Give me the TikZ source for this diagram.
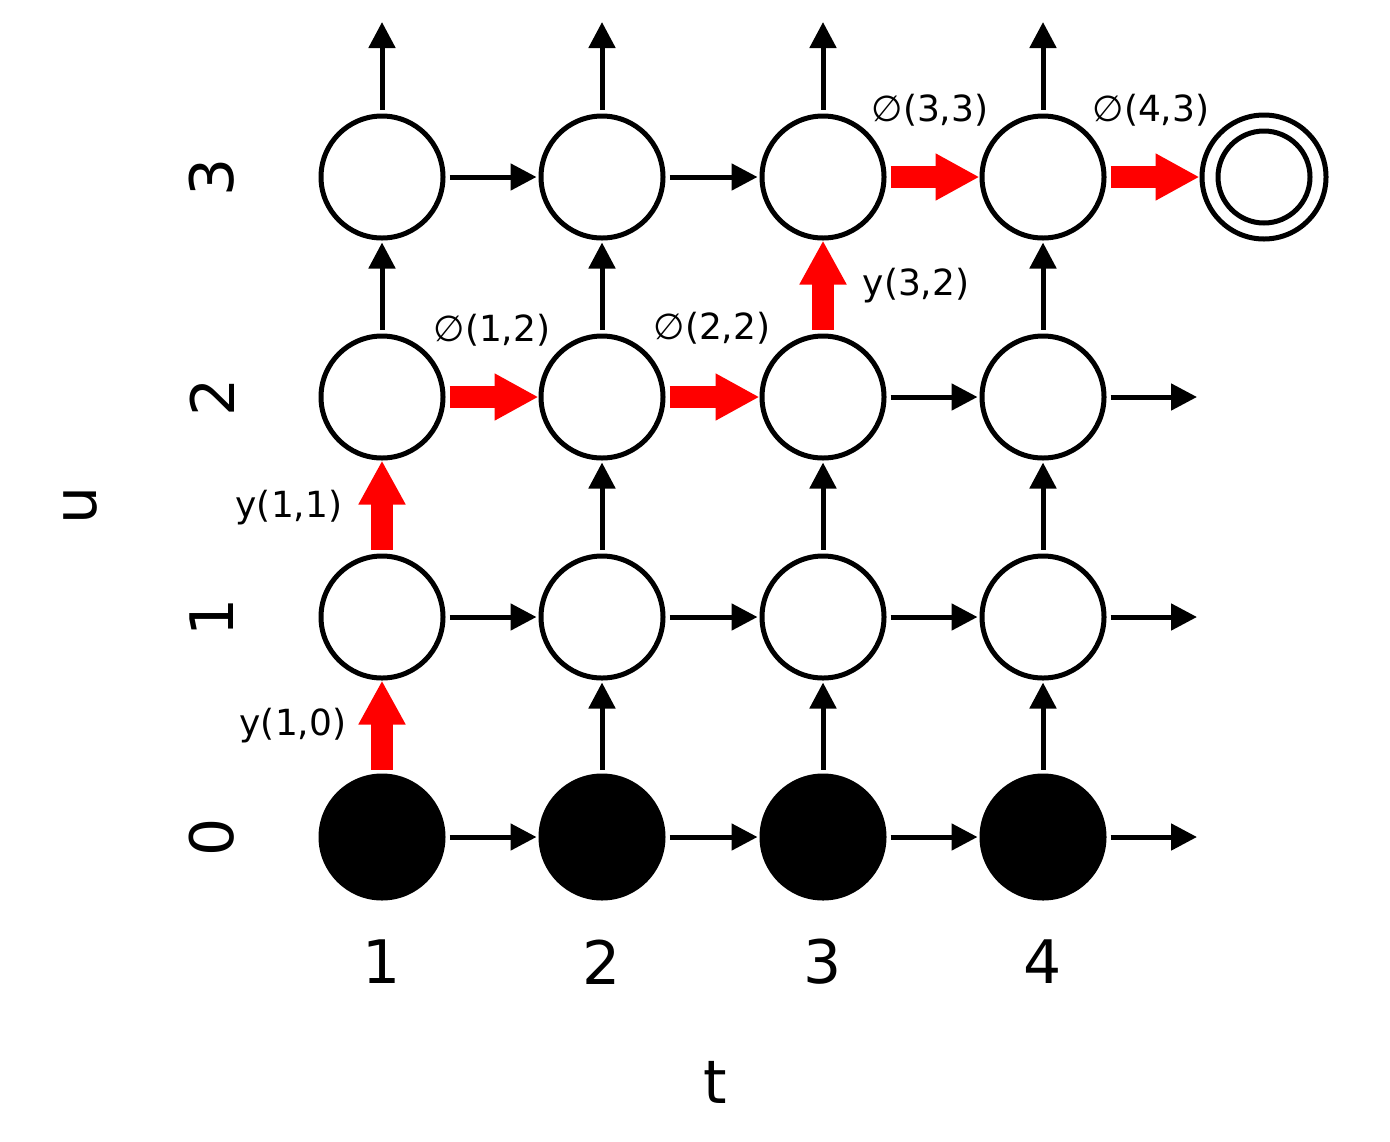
\documentclass[tikz,border=0pt]{standalone}
\usepackage{fontspec}
\setmainfont{DejaVu Sans}
\usetikzlibrary{arrows.meta}
\tikzset{
 st/.style={circle,draw,line width=5bp,minimum size=122bp,inner sep=0pt,fill=white},
 blk/.style={st,fill=black},
 ba/.style={line width=5bp,-{Triangle[length=26bp,width=26bp]},shorten <=4bp,shorten >=2bp},
 ra/.style={line width=22bp,red,-{Triangle[length=44bp,width=44bp]},shorten <=4bp,shorten >=0bp},
 lab/.style={font=\fontsize{36bp}{40bp}\selectfont,inner sep=0pt},
 axn/.style={font=\fontsize{60bp}{64bp}\selectfont,inner sep=0pt}
}
\begin{document}
\begin{tikzpicture}[x=1bp,y=-1bp]
\useasboundingbox (0,0) rectangle (1390,1141);
\foreach \c/\x in {1/382,2/602,3/823,4/1043}{
  \node[blk] (n\c0) at (\x,837) {};
  \foreach \r/\y in {1/617,2/397,3/177}{ \node[st] (n\c\r) at (\x,\y) {}; }
  \coordinate (top\c) at (\x,20);
  \node[axn] at (\x,962) {\c};
}
\foreach \r/\y in {0/837,1/617,2/397}{ \coordinate (rt\r) at (1199,\y); }
\node[st,minimum size=124bp] (fin) at (1264,177) {};
\node[circle,draw,line width=5bp,minimum size=92bp] (fin2) at (1264,177) {};
\foreach \r/\y in {0/837,1/617,2/397,3/177}{ \node[axn,rotate=90] at (212,\y) {\r}; }
\node[axn,rotate=90] at (80,505) {u};
\node[axn] at (715,1082) {t};
% black horizontal
\foreach \r in {0,1}{ \draw[ba] (n1\r) -- (n2\r); \draw[ba] (n2\r) -- (n3\r); \draw[ba] (n3\r) -- (n4\r); \draw[ba] (n4\r) -- (rt\r); }
\draw[ba] (n32) -- (n42); \draw[ba] (n42) -- (rt2);
\draw[ba] (n13) -- (n23); \draw[ba] (n23) -- (n33);
% black vertical
\draw[ba] (n12) -- (n13);
\draw[ba] (n20) -- (n21); \draw[ba] (n21) -- (n22); \draw[ba] (n22) -- (n23);
\draw[ba] (n30) -- (n31); \draw[ba] (n31) -- (n32);
\draw[ba] (n40) -- (n41); \draw[ba] (n41) -- (n42); \draw[ba] (n42) -- (n43);
\foreach \c in {1,2,3,4}{ \draw[ba] (n\c3) -- (top\c); }
% red path
\draw[ra] (n10) -- (n11); \draw[ra] (n11) -- (n12);
\draw[ra] (n12) -- (n22); \draw[ra] (n22) -- (n32);
\draw[ra] (n32) -- (n33); \draw[ra] (n33) -- (n43); \draw[ra] (n43) -- (fin);
% labels
\node[lab] at (293,726) {y(1,0)};
\node[lab] at (289,508) {y(1,1)};
\node[lab] at (492,330) {∅(1,2)};
\node[lab] at (712,328) {∅(2,2)};
\node[lab] at (916,286) {y(3,2)};
\node[lab] at (930,110) {∅(3,3)};
\node[lab] at (1151,110) {∅(4,3)};
\end{tikzpicture}
\end{document}
